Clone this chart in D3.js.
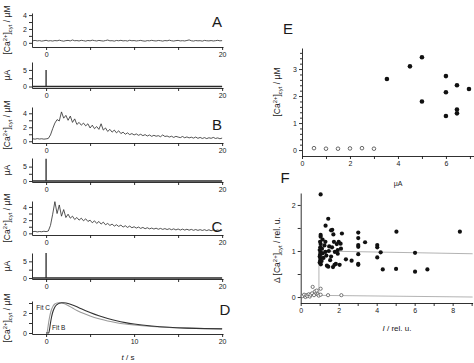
<!DOCTYPE html>
<html>
<head>
<meta charset="utf-8">
<script src="https://cdn.jsdelivr.net/npm/d3@7"></script>
<style>
  body { margin: 0; background: #fff; }
  svg { display: block; font-family: "Liberation Sans", Arial, sans-serif; }
</style>
</head>
<body>
<svg id="chart" width="474" height="363"></svg>
<script>
// traces A-C: one sample every 0.25 s starting at -1.5 s
const traceStart = -1.5, traceStep = 0.25;

const caA = [
  0.30,0.35,0.28,0.32,0.25,0.30,0.36,0.27,0.31,0.26,
  0.33,0.29,0.38,0.30,0.24,0.32,0.35,0.28,0.41,0.30,
  0.33,0.27,0.36,0.31,0.25,0.34,0.29,0.38,0.32,0.27,
  0.35,0.30,0.26,0.33,0.40,0.29,0.31,0.25,0.34,0.30,
  0.36,0.28,0.32,0.26,0.37,0.30,0.33,0.27,0.31,0.35,
  0.28,0.24,0.32,0.29,0.36,0.30,0.27,0.34,0.31,0.25,
  0.33,0.29,0.38,0.30,0.26,0.32,0.35,0.28,0.31,0.27,
  0.34,0.42,0.30,0.26,0.33,0.29,0.31,0.25,0.35,0.30,
  0.28,0.33,0.27,0.31,0.36,0.29,0.32
];
const caB = [
  0.35,0.30,0.38,0.32,0.36,0.30,0.34,0.40,0.90,1.80,
  2.60,3.10,2.90,4.20,3.30,3.70,3.00,3.60,2.70,3.20,
  2.40,2.70,2.30,2.60,2.20,2.50,1.90,2.30,1.80,2.10,
  1.70,2.50,1.60,1.90,1.40,1.70,1.30,1.60,1.20,1.50,
  1.10,1.30,1.00,1.20,0.95,1.10,0.90,1.05,0.85,1.00,
  0.80,0.95,0.75,0.90,0.70,0.85,0.72,0.80,0.65,0.90,
  0.68,0.75,0.60,0.72,0.55,0.70,0.60,0.52,0.68,0.50,
  0.62,0.48,0.58,0.45,0.60,0.42,0.55,0.40,0.52,0.38,
  0.50,0.42,0.55,0.40,0.48,0.36,0.45
];
const caC = [
  0.25,0.30,0.22,0.28,0.24,0.32,0.26,0.35,1.20,2.90,
  4.80,3.00,4.30,2.60,3.60,2.40,2.90,2.30,2.60,2.10,
  2.40,2.00,2.30,1.90,2.20,1.80,2.00,1.60,1.90,1.50,
  1.80,1.40,1.70,1.30,1.50,1.20,1.40,1.10,1.30,1.05,
  1.25,0.95,1.15,0.90,1.10,0.85,1.00,0.80,0.95,0.75,
  0.90,0.70,0.85,0.68,0.80,0.65,0.78,0.62,0.75,0.60,
  0.72,0.58,0.70,0.55,0.68,0.52,0.66,0.50,0.64,0.50,
  0.62,0.48,0.60,0.46,0.58,0.45,0.56,0.44,0.55,0.42,
  0.54,0.40,0.52,0.42,0.50,0.40,0.48
];

// current pulses (µA)
const pulseT = [-1.5, 0, 0, 0, 20];
const pulseA = [0, 0, 5.0, 0, 0];
const pulseB = [0, 0, 7.7, 0, 0];
const pulseC = [0, 0, 7.5, 0, 0];

// panel D fits
const fitCT = [0,0.1,0.2,0.3,0.4,0.5,0.6,0.8,1.0,1.25,1.5,2,2.5,3,3.5,4,5,6,7,8,9,10,12,14,16,18,20];
const fitCV = [0,0,0.5,1.1,1.6,2.0,2.3,2.7,2.9,3.0,3.02,2.95,2.75,2.5,2.25,2.05,1.7,1.42,1.2,1.03,0.9,0.8,0.65,0.55,0.49,0.45,0.42];
const fitBT = [0,0.3,0.4,0.5,0.6,0.7,0.8,1.0,1.25,1.5,1.75,2,2.5,3,3.5,4,5,6,7,8,9,10,12,14,16,18,20];
const fitBV = [0,0,0.4,1.0,1.5,1.9,2.2,2.6,2.85,2.98,3.03,3.02,2.95,2.8,2.62,2.42,2.05,1.72,1.45,1.22,1.04,0.9,0.7,0.57,0.49,0.44,0.41];

// panel E
const eOpenX = [0.5, 1, 1.5, 2, 2.5, 3];
const eOpenY = [0.07, 0.05, 0.05, 0.06, 0.07, 0.05];
const eFillX = [3.54, 4.5, 5.0, 5.0, 6.0, 6.0, 6.0, 6.46, 6.46, 6.46, 6.96];
const eFillY = [2.63, 3.1, 3.44, 1.8, 2.74, 2.14, 1.26, 2.4, 1.5, 1.36, 2.26];

// panel F
const fFillX = [1.05,1.45,1.31,1.05,1.05,1.66,1.72,2.17,3.03,3.03,5.04,8.38,3.39,3.03,3.03,4.03,4.03,4.21,4.03,3.03,
  3.03,3.03,4.32,5.02,6.02,6.02,6.67,2.38,2.68,
  1.02,1.05,1.03,1.0,1.05,1.02,1.0,1.05,1.03,1.0,1.06,1.12,1.15,1.2,1.1,1.25,1.3,1.35,1.38,1.45,
  1.5,1.48,1.55,1.6,1.65,1.7,1.75,1.8,1.78,1.85,1.9,1.95,1.95,2.0,2.05,2.1,2.12,1.6,1.3,1.15];
const fFillY = [2.23,1.70,1.55,1.35,1.31,1.46,1.36,1.38,1.40,1.28,1.42,1.42,1.19,1.13,1.09,1.13,1.08,0.97,0.86,0.93,
  0.70,0.72,0.60,0.61,0.55,0.96,0.60,0.82,0.79,
  1.20,1.15,1.08,1.02,0.97,0.92,0.88,0.84,0.80,0.75,0.71,1.05,0.95,0.85,0.78,1.12,0.98,0.90,0.68,0.66,
  1.10,1.00,0.80,0.88,1.08,0.65,1.20,0.98,0.70,0.72,1.15,1.02,0.94,1.20,0.70,1.16,1.05,1.45,1.20,1.25];
const fOpenX = [0.1,0.18,0.25,0.3,0.35,0.42,0.48,0.52,0.6,0.63,0.7,0.75,0.84,0.9,0.95,1.05,1.05,1.44,2.14];
const fOpenY = [0.02,0.05,0.0,0.04,0.02,0.06,0.01,0.05,0.08,0.22,0.04,0.12,0.14,0.06,0.03,0.18,0.05,0.04,0.04];
const fitLowX = [0, 9.05], fitLowY = [0.04, 0.0];
const fitHighX = [0.96, 0.96, 9.05], fitHighY = [0.04, 1.0, 0.94];

const svg = d3.select('#chart');
const ink = '#1a1a1a';

function styleAxis(g) {
  g.selectAll('path, line').attr('stroke', ink).attr('stroke-width', 0.9);
  g.selectAll('text').attr('fill', ink).attr('font-size', '7px');
}

function drawAxes(x, y, o) {
  const bottom = y.range()[0], left = x.range()[0];
  const gx = svg.append('g').attr('transform', `translate(0,${bottom})`)
    .call(d3.axisBottom(x).tickValues(o.xTicks).tickSize(3).tickSizeOuter(0).tickPadding(2)
      .tickFormat(d => o.xLabels.includes(d) ? d : ''));
  styleAxis(gx);
  const gy = svg.append('g').attr('transform', `translate(${left},0)`)
    .call(d3.axisLeft(y).tickValues(o.yTicks).tickSize(3).tickSizeOuter(0).tickPadding(2)
      .tickFormat(d => o.yLabels.includes(d) ? d : ''));
  styleAxis(gy);
  if (o.yMinor) {
    const gm = svg.append('g').attr('transform', `translate(${left},0)`)
      .call(d3.axisLeft(y).tickValues(o.yMinor).tickSize(2).tickFormat(''));
    gm.select('.domain').remove();
    styleAxis(gm);
  }
}

function caLabel(cx, cy, pre, post, size) {
  const t = svg.append('text')
    .attr('transform', `translate(${cx},${cy}) rotate(-90)`)
    .attr('text-anchor', 'middle').attr('font-size', size + 'px').attr('fill', ink);
  t.append('tspan').text(pre + '[Ca');
  t.append('tspan').attr('font-size', (size * 0.7) + 'px').attr('dy', -size * 0.4).text('2+');
  t.append('tspan').attr('dy', size * 0.4).text(']');
  t.append('tspan').attr('font-size', (size * 0.7) + 'px').attr('dy', size * 0.25).text('cyt');
  t.append('tspan').attr('dy', -size * 0.25).text(post);
}

function vLabel(cx, cy, txt, size) {
  svg.append('text').attr('transform', `translate(${cx},${cy}) rotate(-90)`)
    .attr('text-anchor', 'middle').attr('font-size', size + 'px').attr('fill', ink).text(txt);
}

function letter(x, y, s) {
  svg.append('text').attr('x', x).attr('y', y).attr('text-anchor', 'middle')
    .attr('font-size', '15px').attr('fill', ink).text(s);
}

// ---------- left column: traces ----------
const xT = d3.scaleLinear().domain([-1.6, 20.1]).range([32, 223]);
const tTicks = [0, 5, 10, 15, 20];

const caPanels = [
  { data: caA, top: 13,  bottom: 47,  dom: [-0.6, 4.3],  name: 'A', ly: 27 },
  { data: caB, top: 107, bottom: 143, dom: [-0.25, 4.9], name: 'B', ly: 130 },
  { data: caC, top: 201, bottom: 235, dom: [-0.25, 4.9], name: 'C', ly: 232 }
];
const curPanels = [
  { data: pulseA, top: 62,  bottom: 88,  dom: [-0.45, 7.4] },
  { data: pulseB, top: 158, bottom: 182, dom: [-0.35, 8.0] },
  { data: pulseC, top: 253, bottom: 279, dom: [-0.3, 7.5] }
];

caPanels.forEach(p => {
  const y = d3.scaleLinear().domain(p.dom).range([p.bottom, p.top]);
  drawAxes(xT, y, { xTicks: tTicks, xLabels: [0, 20], yTicks: [0, 1, 2, 3, 4], yLabels: [0, 2, 4] });
  const line = d3.line().x((d, i) => xT(traceStart + i * traceStep)).y(d => y(d));
  svg.append('path').attr('d', line(p.data)).attr('fill', 'none')
    .attr('stroke', '#2a2a2a').attr('stroke-width', 0.8).attr('stroke-linejoin', 'round');
  caLabel(10, (p.top + p.bottom) / 2, '', ' / µM', 8.5);
  letter(217, p.ly, p.name);
});

curPanels.forEach(p => {
  const y = d3.scaleLinear().domain(p.dom).range([p.bottom, p.top]);
  drawAxes(xT, y, { xTicks: tTicks, xLabels: [0, 20], yTicks: [0, 2.5, 5], yLabels: [0, 5] });
  const line = d3.line().x((d, i) => xT(pulseT[i])).y(d => y(d));
  svg.append('path').attr('d', line(p.data)).attr('fill', 'none')
    .attr('stroke', '#2a2a2a').attr('stroke-width', 1.3);
  vLabel(10, (p.top + p.bottom) / 2, 'µA', 8.5);
});

// panel D
{
  const y = d3.scaleLinear().domain([-0.1, 3.2]).range([334, 301]);
  drawAxes(xT, y, { xTicks: tTicks, xLabels: [0, 10, 20], yTicks: [0, 1, 2, 3], yLabels: [0, 2] });
  const line = (tt) => d3.line().x((d, i) => xT(tt[i])).y(d => y(d)).curve(d3.curveMonotoneX);
  svg.append('path').attr('d', line(fitCT)(fitCV)).attr('fill', 'none')
    .attr('stroke', '#9a9a9a').attr('stroke-width', 1.1);
  svg.append('path').attr('d', line(fitBT)(fitBV)).attr('fill', 'none')
    .attr('stroke', '#333').attr('stroke-width', 1.1);
  svg.append('text').attr('x', 50).attr('y', 310).attr('text-anchor', 'end')
    .attr('font-size', '6.5px').attr('fill', ink).text('Fit C');
  svg.append('text').attr('x', 52).attr('y', 330)
    .attr('font-size', '6.5px').attr('fill', ink).text('Fit B');
  caLabel(10, 318, '', ' / µM', 8.5);
  letter(225, 315, 'D');
  const tl = svg.append('text').attr('x', 128).attr('y', 360).attr('text-anchor', 'middle')
    .attr('font-size', '8px').attr('fill', ink);
  tl.append('tspan').attr('font-style', 'italic').text('t');
  tl.append('tspan').text(' / s');
}

// ---------- panel E ----------
{
  const x = d3.scaleLinear().domain([0, 7.17]).range([302, 474]);
  const y = d3.scaleLinear().domain([-0.22, 3.78]).range([156, 48]);
  drawAxes(x, y, { xTicks: [0, 1, 2, 3, 4, 5, 6, 7], xLabels: [0, 2, 4, 6],
    yTicks: [0, 1, 2, 3], yLabels: [0, 1, 2, 3],
    yMinor: d3.range(0, 3.7, 0.2).filter(v => Math.abs(v - Math.round(v)) > 0.01) });
  svg.append('g').selectAll('circle').data(eOpenX).join('circle')
    .attr('cx', d => x(d)).attr('cy', (d, i) => y(eOpenY[i])).attr('r', 1.8)
    .attr('fill', '#fff').attr('stroke', '#444').attr('stroke-width', 0.8);
  svg.append('g').selectAll('circle').data(eFillX).join('circle')
    .attr('cx', d => x(d)).attr('cy', (d, i) => y(eFillY[i])).attr('r', 2.3).attr('fill', '#111');
  caLabel(280, 92, '', ' / µM', 8.5);
  svg.append('text').attr('x', 398).attr('y', 186).attr('text-anchor', 'middle')
    .attr('font-size', '7px').attr('fill', ink).text('µA');
  letter(288, 34, 'E');
}

// ---------- panel F ----------
{
  const x = d3.scaleLinear().domain([0, 9.05]).range([300.7, 472.6]);
  const y = d3.scaleLinear().domain([-0.13, 2.26]).range([303, 193]);
  drawAxes(x, y, { xTicks: d3.range(0, 10), xLabels: [0, 2, 4, 6, 8],
    yTicks: [0, 0.5, 1, 1.5, 2], yLabels: [0, 1, 2] });
  const line = (xs) => d3.line().x((d, i) => x(xs[i])).y(d => y(d));
  svg.append('path').attr('d', line(fitLowX)(fitLowY)).attr('fill', 'none')
    .attr('stroke', '#aaa').attr('stroke-width', 0.9);
  svg.append('path').attr('d', line(fitHighX)(fitHighY)).attr('fill', 'none')
    .attr('stroke', '#aaa').attr('stroke-width', 0.9);
  svg.append('g').selectAll('circle').data(fOpenX).join('circle')
    .attr('cx', d => x(d)).attr('cy', (d, i) => y(fOpenY[i])).attr('r', 1.6)
    .attr('fill', '#fff').attr('stroke', '#444').attr('stroke-width', 0.7);
  svg.append('g').selectAll('circle').data(fFillX).join('circle')
    .attr('cx', d => x(d)).attr('cy', (d, i) => y(fFillY[i])).attr('r', 2.1).attr('fill', '#111');
  caLabel(280, 250, 'Δ ', ' / rel. u.', 8.5);
  const il = svg.append('text').attr('x', 397).attr('y', 331).attr('text-anchor', 'middle')
    .attr('font-size', '8px').attr('fill', ink);
  il.append('tspan').attr('font-style', 'italic').text('I');
  il.append('tspan').text(' / rel. u.');
  letter(285, 183, 'F');
}
</script>
</body>
</html>
